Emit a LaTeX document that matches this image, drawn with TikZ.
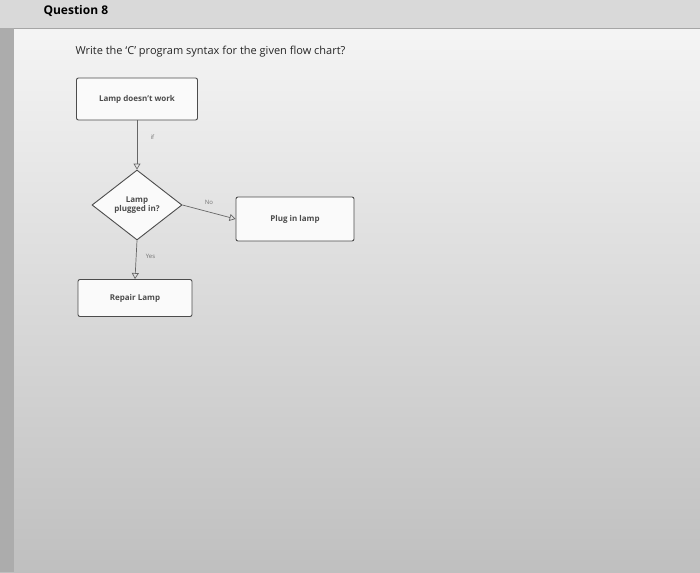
\documentclass[tikz,border=0pt]{standalone}
\usepackage{fontspec}
\setmainfont{Open Sans}
\usetikzlibrary{arrows.meta,shapes.geometric}
\begin{document}
\begin{tikzpicture}[x=1pt,y=-1pt,
  box/.style={draw=black!70,rounded corners=2pt,line width=0.9pt,fill=white!96!gray,text=black!70,font=\fontsize{8}{9}\selectfont\bfseries},
  dia/.style={diamond,draw=black!70,line width=0.9pt,fill=white!96!gray,aspect=1.3,inner sep=0pt,minimum width=90pt,minimum height=70pt,align=center,text=black!70,font=\fontsize{8}{8.5}\selectfont\bfseries},
  lbl/.style={text=black!55,font=\fontsize{6}{7}\selectfont},
  conn/.style={draw=black!60,line width=0.7pt,-{Triangle[open,length=6pt,width=7pt]}}]
\useasboundingbox (0,0) rectangle (700,572);
\shade[top color=white!94!gray,bottom color=gray!50] (0,0) rectangle (700,572);
\fill[gray!30] (0,0) rectangle (700,28);
\fill[gray!65] (0,28) rectangle (14,572);
\draw[gray!70] (14,28) -- (700,28);
\node[anchor=west,font=\bfseries\fontsize{12}{14}\selectfont] (q) at (40,11) {Question 8};
\node[anchor=west,font=\fontsize{11}{13}\selectfont,text=black!85] (t) at (72,52) {Write the `C' program syntax for the given flow chart?};
\node[box,minimum width=121pt,minimum height=42pt] (a) at (137,99) {Lamp doesn't work};
\node[dia] (d) at (137,205) {Lamp\\plugged in?};
\node[box,minimum width=118pt,minimum height=44pt] (p) at (295,219) {Plug in lamp};
\node[box,minimum width=114pt,minimum height=37pt] (r) at (135,298) {Repair Lamp};
\draw[conn] (a.south) -- (d.north) node[lbl,pos=0.35,right=10pt] {if};
\draw[conn] (d.east) -- (p.west) node[lbl,pos=0.5,above=4pt] {No};
\draw[conn] (d.south) -- (r.north) node[lbl,pos=0.4,right=6pt] {Yes};
\end{tikzpicture}
\end{document}
